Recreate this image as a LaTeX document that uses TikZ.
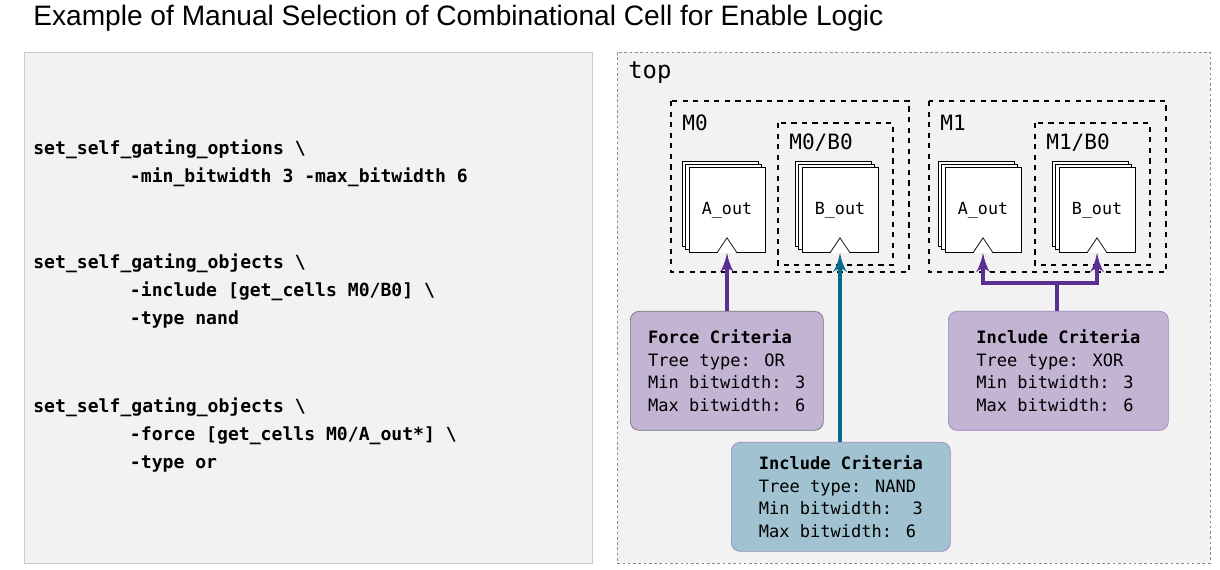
\documentclass[tikz,border=0pt]{standalone}
\usepackage{fontspec}
\setmainfont{Liberation Sans}
\newfontfamily\codefont{DejaVu Sans Mono}
\usetikzlibrary{arrows,shadows,positioning}
\definecolor{panelgray}{HTML}{F2F2F2}
\definecolor{lavender}{HTML}{C3B4D3}
\definecolor{paleblue}{HTML}{A1C3D1}
\definecolor{wirepurple}{HTML}{5B2E91}
\definecolor{wireteal}{HTML}{0A6A8C}
\tikzset{
  code/.style={anchor=west, align=left, inner sep=0pt, font=\codefont\bfseries\fontsize{10.3}{15.9}\selectfont},
  block/.style={draw, dashed, line width=1.1pt},
  label/.style={anchor=west, inner sep=0pt, font=\codefont\fontsize{12}{12}\selectfont},
  cell/.style={draw, fill=white, minimum width=76*0.02cm, minimum height=85*0.02cm,
    inner sep=0pt, font=\codefont\fontsize{9.5}{9.5}\selectfont,
    double copy shadow={shadow xshift=-0.07cm, shadow yshift=0.06cm}},
  criteria/.style={draw, rounded corners=5pt, align=left, anchor=north west,
    inner xsep=6pt, font=\codefont\fontsize{9.7}{12.8}\selectfont},
  line/.style={draw, -latex', line width=2.8pt}
}
\newcommand{\clocktri}[1]{\draw[fill=white] ([xshift=-0.2cm]#1.south) -- ++(0.2cm,0.3cm) -- ++(0.2cm,-0.3cm);}
\begin{document}
\begin{tikzpicture}[x=0.02cm, y=-0.02cm]
        \useasboundingbox (0,0) rectangle (1220,570);
        % Title
        \node[anchor=west, inner sep=0pt, font=\fontsize{16}{16}\selectfont] (title) at (33,18)
          {Example of Manual Selection of Combinational Cell for Enable Logic};
        % Left panel with the commands
        \draw[fill=panelgray, draw=black!20] (24,52) rectangle (592,563);
        \node[code] (opts) at (33,163) {set\_self\_gating\_options \textbackslash\\
          \hspace*{55pt}-min\_bitwidth 3 -max\_bitwidth 6};
        \node[code] (incl) at (33,291) {set\_self\_gating\_objects \textbackslash\\
          \hspace*{55pt}-include [get\_cells M0/B0] \textbackslash\\
          \hspace*{55pt}-type nand};
        \node[code] (force) at (33,435) {set\_self\_gating\_objects \textbackslash\\
          \hspace*{55pt}-force [get\_cells M0/A\_out*] \textbackslash\\
          \hspace*{55pt}-type or};
        % Right panel with the hierarchy
        \draw[fill=panelgray, draw=black!45, dashed, dash pattern=on 1.5pt off 1.5pt] (617,52) rectangle (1210,563);
        \node[anchor=west, inner sep=0pt, font=\codefont\fontsize{13.6}{13.6}\selectfont] (top) at (628,73) {top};
        \draw[block] (671,101) rectangle (909,272);
        \draw[block] (778,123) rectangle (893,265);
        \draw[block] (929,101) rectangle (1166,272);
        \draw[block] (1035,123) rectangle (1150,265);
        \node[label] (m0) at (682,123) {M0};
        \node[label] (m0b0) at (789,143) {M0/B0};
        \node[label] (m1) at (940,123) {M1};
        \node[label] (m1b0) at (1046,143) {M1/B0};
        \node[cell] (a0) at (727,210) {A\_out};
        \node[cell] (b0) at (840,210) {B\_out};
        \node[cell] (a1) at (983,210) {A\_out};
        \node[cell] (b1) at (1097,210) {B\_out};
        \clocktri{a0} \clocktri{b0} \clocktri{a1} \clocktri{b1}
        % Criteria boxes
        \node[criteria, fill=lavender, draw=black!55, minimum width=193*0.02cm, minimum height=119*0.02cm] (fcrit) at (630,311)
          {\textbf{Force Criteria}\\Tree type: OR\\Min bitwidth: 3\\Max bitwidth: 6};
        \node[criteria, fill=lavender, draw=wirepurple!60, minimum width=220*0.02cm, minimum height=119*0.02cm] (xcrit) at (948,311)
          {\textbf{Include Criteria}\\Tree type: XOR\\Min bitwidth: 3\\Max bitwidth: 6};
        \node[criteria, fill=paleblue, draw=wirepurple!60, minimum width=219*0.02cm, minimum height=109*0.02cm] (ncrit) at (731,442)
          {\textbf{Include Criteria}\\Tree type: NAND\\Min bitwidth:\ \ 3\\Max bitwidth: 6};
        % Draw edges
        \coordinate (fork) at (1057,283);
        \path [line, wirepurple] (fcrit.north -| a0.south) -- (a0.south);
        \path [line, wireteal] (ncrit.north -| b0.south) -- (b0.south);
        \draw [wirepurple, line width=2.8pt] (xcrit.north -| fork) -- (fork);
        \path [line, wirepurple] (fork) -| (a1.south);
        \path [line, wirepurple] (fork) -| (b1.south);
\end{tikzpicture}
\end{document}
